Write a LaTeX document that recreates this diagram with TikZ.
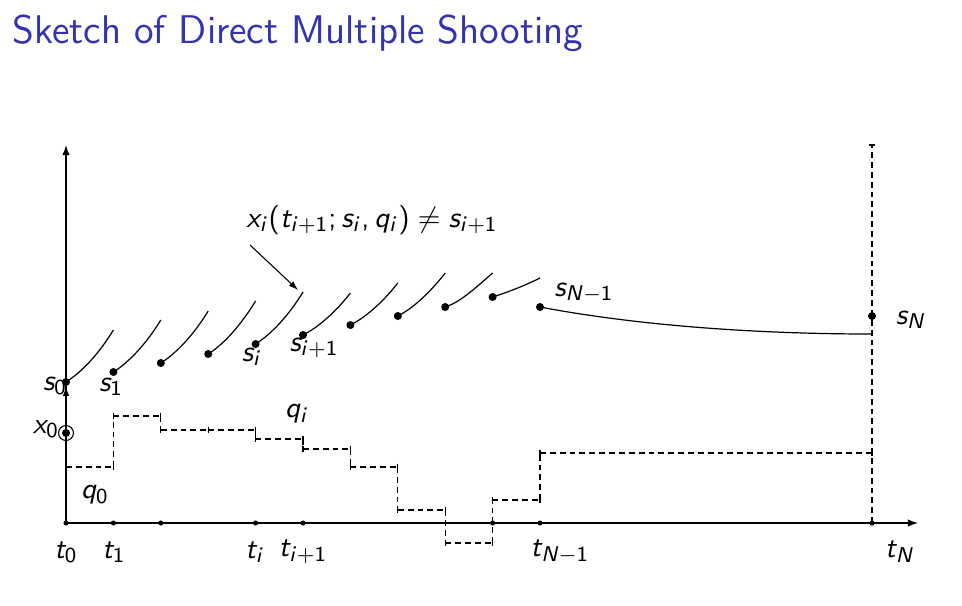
\documentclass[tikz,border=0pt]{standalone}
\usetikzlibrary{arrows.meta,calc}
\DeclareSymbolFont{sfletters}{OT1}{cmss}{m}{sl}
\DeclareSymbolFont{sfupright}{OT1}{cmss}{m}{n}
\DeclareMathSymbol{s}{\mathalpha}{sfletters}{`s}
\DeclareMathSymbol{t}{\mathalpha}{sfletters}{`t}
\DeclareMathSymbol{x}{\mathalpha}{sfletters}{`x}
\DeclareMathSymbol{q}{\mathalpha}{sfletters}{`q}
\DeclareMathSymbol{i}{\mathalpha}{sfletters}{`i}
\DeclareMathSymbol{N}{\mathalpha}{sfletters}{`N}
\DeclareMathSymbol{0}{\mathalpha}{sfupright}{`0}
\DeclareMathSymbol{1}{\mathalpha}{sfupright}{`1}
\DeclareMathSymbol{(}{\mathopen}{sfupright}{`(}
\DeclareMathSymbol{)}{\mathclose}{sfupright}{`)}
\DeclareMathSymbol{;}{\mathpunct}{sfupright}{`;}
\DeclareMathSymbol{,}{\mathpunct}{sfupright}{`,}
\DeclareMathSymbol{+}{\mathbin}{sfupright}{`+}
\definecolor{titleblue}{rgb}{0.2,0.2,0.7}
\begin{document}
\begin{tikzpicture}[x=0.375pt,y=-0.375pt,
  axisline/.style={line width=0.5pt,-{Latex[length=3.8pt,width=2.8pt]}},
  arcline/.style={line width=0.45pt},
  ctrl/.style={line width=0.4pt,dash pattern=on 2.2pt off 1.5pt},
  tickmark/.style={line width=0.4pt},
  sdot/.style={circle,fill=black,inner sep=0pt,minimum size=3pt},
  adot/.style={circle,fill=black,inner sep=0pt,minimum size=1.9pt},
  lab/.style={font=\fontsize{11}{13}\selectfont,inner sep=0pt},
  ptr/.style={line width=0.4pt,-{Latex[length=3.5pt,width=2.4pt]}}]
\useasboundingbox (0,0) rectangle (962,605);
% title
\node[anchor=base west,inner sep=0pt,text=titleblue,font=\sffamily\fontsize{15}{18}\selectfont] (title) at (12,43) {Sketch of Direct Multiple Shooting};
% axes
\coordinate (O) at (66,523);
\coordinate (ytop) at (66,145);
\coordinate (xend) at (918,523);
\draw[axisline] (O) -- (ytop);
\draw[axisline] (O) -- (xend);
% axis dots
\foreach \xx/\nm in {66/a0,113.4/a1,160.8/a2,255.6/a4,303/a5,492.6/a9,540/a10,872/aN}
  \node[adot] (\nm) at (\xx,523) {};
% final dashed vertical
\coordinate (vtop) at (872,145);
\draw[ctrl] (aN.center) -- (vtop);
\draw[tickmark] ($(vtop)+(-3,0)$) -- ($(vtop)+(3,0)$);
% controls (steps)
\foreach \xa/\xb/\lv in {66/113.4/467,113.4/160.8/416,160.8/208.2/430,208.2/255.6/430,255.6/303/439,303/350.4/449,350.4/397.8/467,397.8/445.2/510,445.2/492.6/543,492.6/540/500,540/872/453}
  \draw[ctrl] (\xa,\lv) -- (\xb,\lv);
\foreach \xx/\la/\lb in {113.4/467/416,160.8/416/430,255.6/430/439,303/439/449,350.4/449/467,397.8/467/510,445.2/510/543,492.6/543/500,540/500/453}
  \draw[ctrl] (\xx,\la) -- (\xx,\lb);
\foreach \xx/\lv in {113.4/467,113.4/416,160.8/416,160.8/430,208.2/430,255.6/430,255.6/439,303/439,303/449,350.4/449,350.4/467,397.8/467,397.8/510,445.2/510,445.2/543,492.6/543,492.6/500,540/500,540/453,872/453}
  \draw[tickmark] (\xx,\lv-3.2) -- (\xx,\lv+3.2);
% shooting nodes
\node[sdot] (s0) at (66,382) {};
\node[sdot] (s1) at (113.4,372) {};
\node[sdot] (s2) at (160.8,363) {};
\node[sdot] (s3) at (208.2,354) {};
\node[sdot] (s4) at (255.6,344) {};
\node[sdot] (s5) at (303,335) {};
\node[sdot] (s6) at (350.4,325) {};
\node[sdot] (s7) at (397.8,316) {};
\node[sdot] (s8) at (445.2,307) {};
\node[sdot] (s9) at (492.6,297) {};
\node[sdot] (s10) at (540,307) {};
\node[sdot] (sN) at (872,316) {};
% arc end points
\coordinate (e0) at (113.4,330);
\coordinate (e1) at (160.8,320);
\coordinate (e2) at (208.2,311);
\coordinate (e3) at (255.6,301);
\coordinate (e4) at (303,292);
\coordinate (e5) at (350.4,293);
\coordinate (e6) at (397.8,283);
\coordinate (e7) at (445.2,273);
\coordinate (e8) at (492.6,273);
\coordinate (e9) at (540,278);
\coordinate (eN) at (872,334);
\draw[arcline] (s0.center) .. controls +(16,-10) and +(-14,23) .. (e0);
\draw[arcline] (s1.center) .. controls +(16,-10) and +(-14,23) .. (e1);
\draw[arcline] (s2.center) .. controls +(16,-10) and +(-14,23) .. (e2);
\draw[arcline] (s3.center) .. controls +(16,-10) and +(-14,23) .. (e3);
\draw[arcline] (s4.center) .. controls +(16,-10) and +(-14,23) .. (e4);
\draw[arcline] (s5.center) .. controls +(16,-8) and +(-14,18) .. (e5);
\draw[arcline] (s6.center) .. controls +(16,-8) and +(-14,18) .. (e6);
\draw[arcline] (s7.center) .. controls +(16,-8) and +(-14,18) .. (e7);
\draw[arcline] (s8.center) .. controls +(16,-5) and +(-14,12) .. (e8);
\draw[arcline] (s9.center) .. controls +(16,-5) and +(-14,7) .. (e9);
\draw[arcline] (s10.center) .. controls +(100,19) and +(-112,0) .. (eN);
% initial value
\node[circle,draw,line width=0.4pt,inner sep=0pt,minimum size=5.6pt] (x0) at (66,433) {};
\node[sdot] (x0dot) at (66,433) {};
\draw[ptr] (x0.north) -- (s0.south);
% label with pointer
\node[lab] (mismatch) at (372,220) {$x_i(t_{i+1}; s_i, q_i) \neq s_{i+1}$};
\coordinate (p1) at (250,245);
\coordinate (p2) at (298,290);
\draw[ptr] (p1) -- (p2);
% labels
\node[lab] (ls0) at (55,386) {$s_0$};
\node[lab] (lx0) at (46,429) {$x_0$};
\node[lab] (ls1) at (111,387) {$s_1$};
\node[lab] (lsi) at (252,357) {$s_i$};
\node[lab] (lsi1) at (314,348) {$s_{i+1}$};
\node[lab] (lqi) at (297,414) {$q_i$};
\node[lab] (lq0) at (95,495) {$q_0$};
\node[lab] (lsN1) at (584,293) {$s_{N-1}$};
\node[lab] (lsN) at (911,320) {$s_N$};
\node[lab] (lt0) at (66,552) {$t_0$};
\node[lab] (lt1) at (114,552) {$t_1$};
\node[lab] (lti) at (255,552) {$t_i$};
\node[lab] (lti1) at (303,552) {$t_{i+1}$};
\node[lab] (ltN1) at (560,552) {$t_{N-1}$};
\node[lab] (ltN) at (900,552) {$t_N$};
\end{tikzpicture}
\end{document}
